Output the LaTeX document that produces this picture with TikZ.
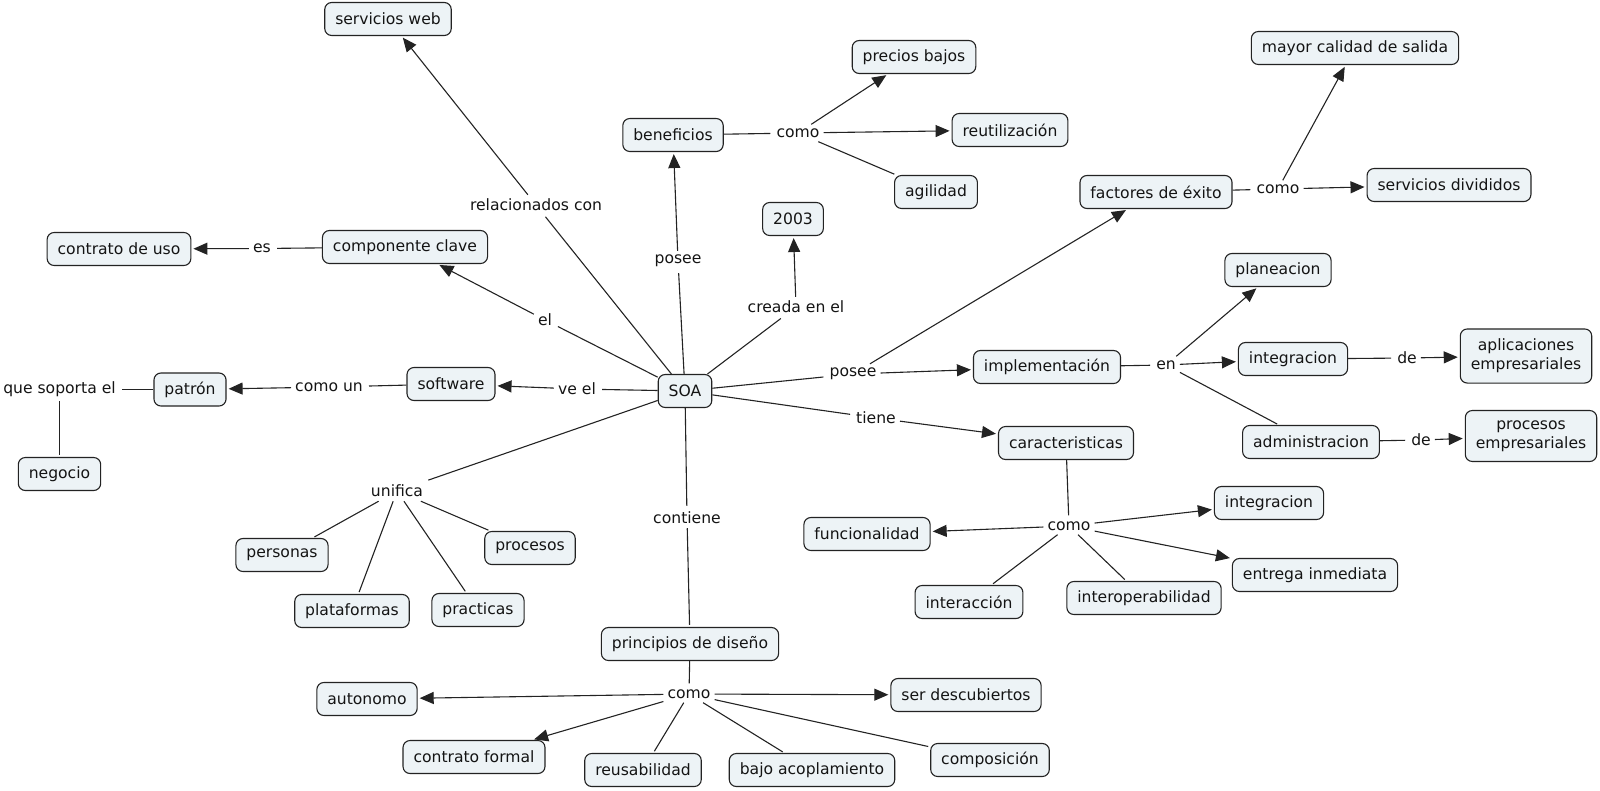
\documentclass[tikz,border=0pt]{standalone}
\usepackage{fontspec}
\setmainfont{DejaVu Sans}
\usetikzlibrary{arrows.meta}
\definecolor{cfill}{RGB}{237,243,246}
\definecolor{cline}{RGB}{35,35,35}
\begin{document}
\begin{tikzpicture}[x=1pt,y=-1pt,
  concept/.style={draw=cline, line width=1.1pt, fill=cfill, rounded corners=7pt,
    minimum height=33pt, inner xsep=10.5pt, inner ysep=4pt,
    font=\fontsize{15.6}{19}\selectfont, text=black!92, align=center},
  concept2/.style={concept, inner ysep=10pt},
  lnk/.style={inner sep=4pt, font=\fontsize{15.6}{19}\selectfont, text=black!92},
  ln/.style={draw=cline, line width=1.1pt, shorten >=2pt},
  arr/.style={ln, -{Triangle[length=14pt,width=12pt]}}
]
\useasboundingbox (0,0) rectangle (1600,790);
% concepts
\node[concept] (soa) at (685,391) {SOA};
\node[concept] (sweb) at (388,19) {servicios web};
\node[concept] (prec) at (914,57) {precios bajos};
\node[concept] (benef) at (673,135) {beneficios};
\node[concept] (reut) at (1010,130) {reutilización};
\node[concept] (agil) at (936,192) {agilidad};
\node[concept] (y2003) at (793,219) {2003};
\node[concept] (mayor) at (1355,48) {mayor calidad de salida};
\node[concept] (fact) at (1156,192) {factores de éxito};
\node[concept] (sdiv) at (1449,185) {servicios divididos};
\node[concept] (cuso) at (119,249) {contrato de uso};
\node[concept] (comp) at (405,247) {componente clave};
\node[concept] (plan) at (1278,270) {planeacion};
\node[concept] (impl) at (1047,367) {implementación};
\node[concept] (integ1) at (1293,359) {integracion};
\node[concept2] (aplic) at (1526,356) {aplicaciones\\empresariales};
\node[concept] (soft) at (451,384) {software};
\node[concept] (patron) at (190,389.5) {patrón};
\node[concept] (admin) at (1311,442) {administracion};
\node[concept2] (procemp) at (1531,436) {procesos\\empresariales};
\node[concept] (carac) at (1066,443) {caracteristicas};
\node[concept] (negocio) at (59.5,474) {negocio};
\node[concept] (integ2) at (1269,503) {integracion};
\node[concept] (func) at (867,534) {funcionalidad};
\node[concept] (proc) at (530,548) {procesos};
\node[concept] (pers) at (282,555) {personas};
\node[concept] (entrega) at (1315,575) {entrega inmediata};
\node[concept] (interop) at (1144,598) {interoperabilidad};
\node[concept] (interac) at (969,602) {interacción};
\node[concept] (plat) at (352,611) {plataformas};
\node[concept] (pract) at (478,610) {practicas};
\node[concept] (princ) at (690,644) {principios de diseño};
\node[concept] (auton) at (367,699) {autonomo};
\node[concept] (serd) at (966,695) {ser descubiertos};
\node[concept] (cform) at (474,757) {contrato formal};
\node[concept] (reus) at (643,770) {reusabilidad};
\node[concept] (bajo) at (812,770) {bajo acoplamiento};
\node[concept] (compos) at (990,760) {composición};
% linking phrases
\node[lnk] (lrel) at (536,205) {relacionados con};
\node[lnk] (lposee1) at (678,261) {posee};
\node[lnk] (lcreada) at (796,307) {creada en el};
\node[lnk] (lel) at (545,320) {el};
\node[lnk] (les) at (262,248.5) {es};
\node[lnk] (lcomo1) at (798,133) {como};
\node[lnk] (lcomo2) at (1278,189) {como};
\node[lnk] (lcomoun) at (329,387) {como un};
\node[lnk] (lveel) at (577,389) {ve el};
\node[lnk] (lque) at (59.5,389.5) {que soporta el};
\node[lnk] (lposee2) at (853,374) {posee};
\node[lnk] (len) at (1166,365) {en};
\node[lnk] (lde1) at (1407,358) {de};
\node[lnk] (lde2) at (1421,440) {de};
\node[lnk] (ltiene) at (876,418) {tiene};
\node[lnk] (lunif) at (397,491) {unifica};
\node[lnk] (lcont) at (687,518) {contiene};
\node[lnk] (lcomo3) at (1069,526) {como};
\node[lnk] (lcomo4) at (689,694) {como};
% connectors
\draw[ln] (soa) -- (lrel); \draw[arr] (lrel) -- (sweb);
\draw[ln] (soa) -- (lposee1); \draw[arr] (lposee1) -- (benef);
\draw[ln] (soa) -- (lcreada); \draw[arr] (lcreada) -- (y2003);
\draw[ln] (soa) -- (lel); \draw[arr] (lel) -- (comp);
\draw[ln] (comp) -- (les); \draw[arr] (les) -- (cuso);
\draw[ln] (benef) -- (lcomo1);
\draw[arr] (lcomo1) -- (prec);
\draw[arr] (lcomo1) -- (reut);
\draw[ln] (lcomo1) -- (agil);
\draw[ln] (soa) -- (lposee2);
\draw[arr] (lposee2) -- (fact);
\draw[arr] (lposee2) -- (impl);
\draw[ln] (fact) -- (lcomo2);
\draw[arr] (lcomo2) -- (mayor);
\draw[arr] (lcomo2) -- (sdiv);
\draw[ln] (impl) -- (len);
\draw[arr] (len) -- (plan);
\draw[arr] (len) -- (integ1);
\draw[ln] (len) -- (admin);
\draw[ln] (integ1) -- (lde1); \draw[arr] (lde1) -- (aplic);
\draw[ln] (admin) -- (lde2); \draw[arr] (lde2) -- (procemp);
\draw[ln] (soa) -- (ltiene); \draw[arr] (ltiene) -- (carac);
\draw[ln] (carac) -- (lcomo3);
\draw[arr] (lcomo3) -- (integ2);
\draw[arr] (lcomo3) -- (func);
\draw[arr] (lcomo3) -- (entrega);
\draw[ln] (lcomo3) -- (interac);
\draw[ln] (lcomo3) -- (interop);
\draw[ln] (soa) -- (lveel); \draw[arr] (lveel) -- (soft);
\draw[ln] (soft) -- (lcomoun); \draw[arr] (lcomoun) -- (patron);
\draw[ln] (patron) -- (lque); \draw[ln] (lque) -- (negocio);
\draw[ln] (soa) -- (lunif);
\draw[ln] (lunif) -- (pers);
\draw[ln] (lunif) -- (plat);
\draw[ln] (lunif) -- (pract);
\draw[ln] (lunif) -- (proc);
\draw[ln] (soa) -- (lcont); \draw[ln] (lcont) -- (princ);
\draw[ln] (princ) -- (lcomo4);
\draw[arr] (lcomo4) -- (auton);
\draw[arr] (lcomo4) -- (serd);
\draw[arr] (lcomo4) -- (cform);
\draw[ln] (lcomo4) -- (reus);
\draw[ln] (lcomo4) -- (bajo);
\draw[ln] (lcomo4) -- (compos);
\end{tikzpicture}
\end{document}
